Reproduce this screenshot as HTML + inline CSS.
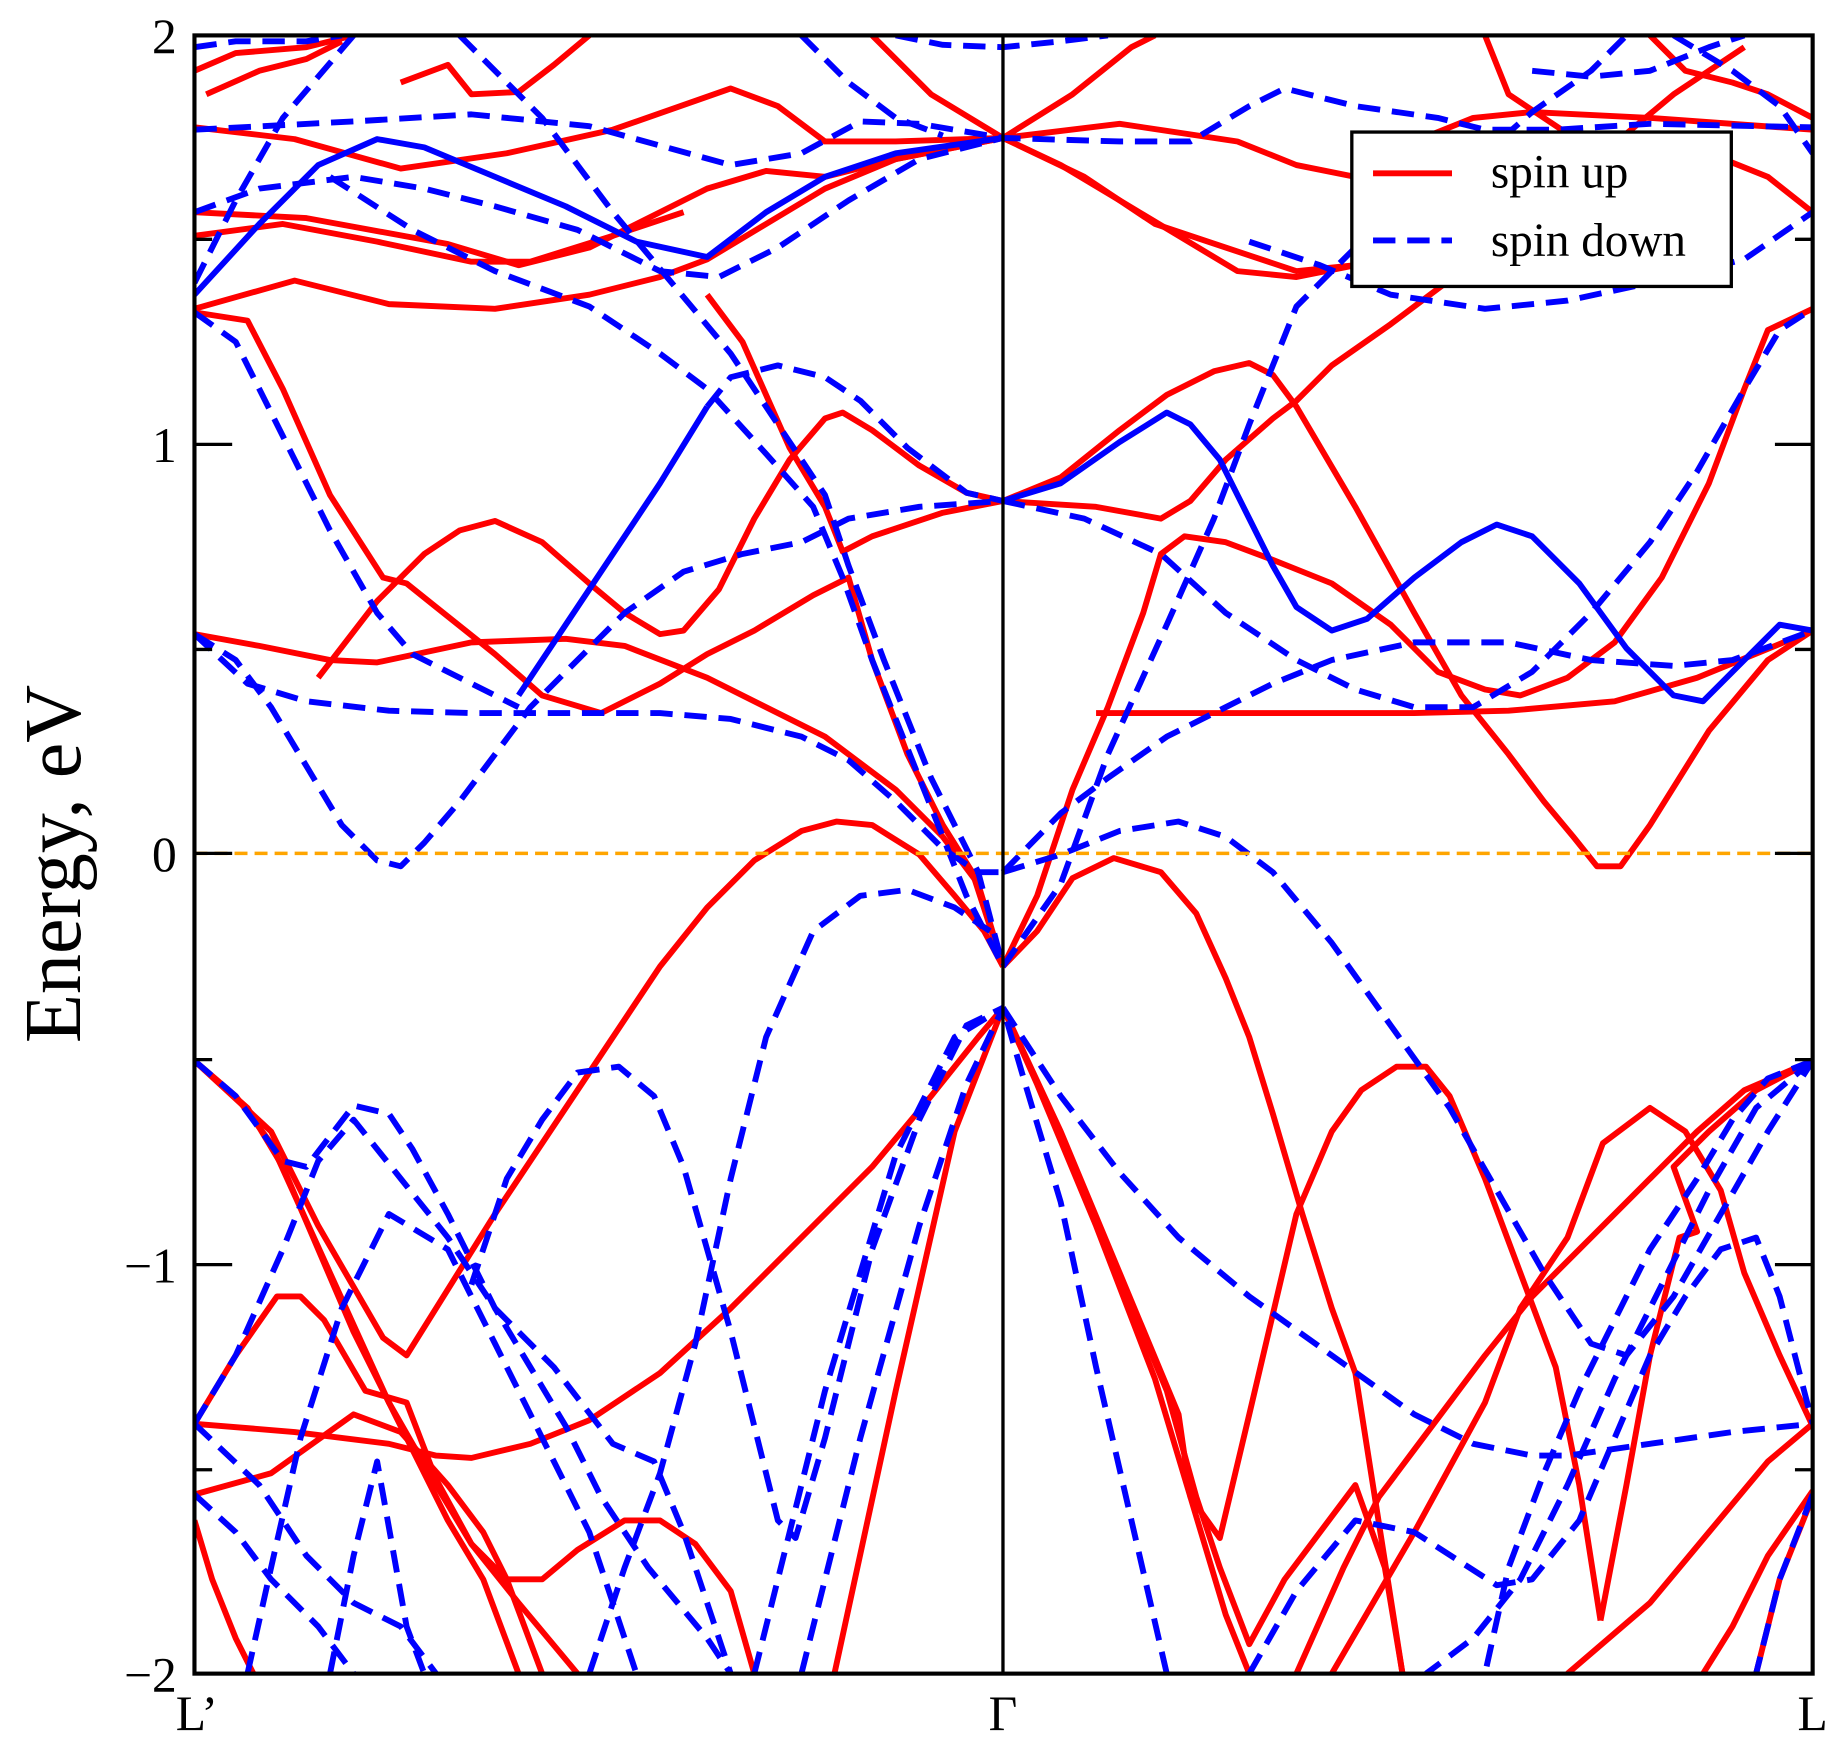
<!DOCTYPE html>
<html><head><meta charset="utf-8"><style>
html,body{margin:0;padding:0;background:#fff;}
svg{display:block;}
text{font-family:"Liberation Serif",serif;fill:#000;}
.r{fill:none;stroke:#f00;stroke-width:5;stroke-linejoin:round;stroke-linecap:butt;}
.b{fill:none;stroke:#00f;stroke-width:5;stroke-dasharray:19 10;stroke-linejoin:round;}
.bs{fill:none;stroke:#00f;stroke-width:5;stroke-linejoin:round;}
</style></head><body>
<svg width="1848" height="1755" viewBox="0 0 1568 1489" xmlns="http://www.w3.org/2000/svg">
<defs><clipPath id="c"><rect x="165" y="30" width="1373" height="1390"/></clipPath></defs>
<g clip-path="url(#c)">
<polyline class="r" points="165,108 250,118 340,143 430,130 520,110 620,75 660,90 700,120 760,120 851,117"/>
<polyline class="r" points="165,180 260,185 380,207 440,225 500,210 540,190 600,160 650,145 700,150 760,135 851,117"/>
<polyline class="r" points="165,262 250,238 330,258 420,262 500,250 560,235 600,220 650,190 700,160 760,135 851,117"/>
<polyline class="r" points="165,200 240,190 320,205 400,222 450,222 520,200 580,180"/>
<polyline class="r" points="165,60 200,45 260,40 300,30"/>
<polyline class="r" points="175,80 220,60 260,50 290,35"/>
<polyline class="r" points="340,70 380,55 400,80 440,78 470,55 500,30"/>
<polyline class="r" points="740,30 790,80 851,117 910,80 960,40 980,30"/>
<polyline class="r" points="165,265 210,272 240,330 280,420 325,490 345,495 370,515 420,555 460,590 510,605 560,580 600,555 640,535 690,505 720,490 740,560 770,640 800,700 825,740 851,820"/>
<polyline class="r" points="270,575 320,510 360,470 390,450 420,442 460,460 500,495 530,520 560,538 580,535 610,500 640,440 670,390 700,355 715,350 740,365 780,395 820,418 851,425"/>
<polyline class="r" points="165,538 220,548 280,560 320,562 400,545 480,542 530,548 600,575 700,625 760,670 800,710 830,750 851,820"/>
<polyline class="r" points="600,250 630,290 670,380 700,430 715,468 740,455 800,435 851,425"/>
<polyline class="r" points="165,900 230,960 270,1040 325,1135 345,1150 420,1030 500,910 560,820 600,770 640,730 680,705 710,697 740,700 780,725 810,760 835,790 851,820"/>
<polyline class="r" points="165,1208 250,1215 330,1225 370,1235 400,1237 450,1225 500,1205 560,1165 620,1110 680,1050 740,990 790,930 830,880 851,855"/>
<polyline class="r" points="708,1420 760,1180 810,960 851,855"/>
<polyline class="r" points="165,900 210,940 240,990 270,1060 300,1130 340,1210 380,1290 410,1340 440,1420"/>
<polyline class="r" points="165,900 200,930 230,970 280,1080 330,1190 370,1260 400,1310 430,1340 460,1340 490,1315 530,1290 560,1290 590,1310 620,1350 640,1420"/>
<polyline class="r" points="165,1208 200,1150 235,1100 255,1100 275,1120 310,1180 345,1190 370,1255 400,1310 440,1360 490,1420"/>
<polyline class="r" points="165,1268 230,1250 300,1200 340,1215 380,1260 410,1300 430,1340 460,1420"/>
<polyline class="r" points="165,1290 180,1340 200,1390 215,1420"/>
<polyline class="r" points="851,117 950,105 1050,120 1100,140 1150,150 1200,120 1250,100 1300,95 1400,100 1538,110"/>
<polyline class="r" points="851,117 900,140 950,170 1000,200 1050,230 1100,235 1150,225 1200,225 1260,200 1320,180 1400,170"/>
<polyline class="r" points="851,117 920,150 980,190 1040,210 1100,230 1150,225"/>
<polyline class="r" points="1260,30 1280,80 1340,120 1400,130 1450,130 1500,150 1538,180"/>
<polyline class="r" points="1400,30 1430,60 1470,70 1500,80 1538,100"/>
<polyline class="r" points="851,425 900,405 950,365 990,335 1030,315 1060,308 1080,318 1100,345 1150,430 1200,520 1240,590 1280,640 1310,680 1335,710 1355,735 1375,735 1400,700 1450,620 1500,560 1538,535"/>
<polyline class="r" points="851,425 930,430 985,440 1010,425 1040,390 1080,355 1100,340 1130,310 1180,275 1240,230 1300,180 1360,130 1420,80 1480,40"/>
<polyline class="r" points="851,820 880,760 910,670 940,600 970,520 985,470 1005,455 1040,460 1080,475 1130,495 1180,530 1220,570 1260,585 1290,590 1330,575 1370,545 1410,490 1450,410 1480,330 1500,280 1538,262"/>
<polyline class="r" points="930,605 1000,605 1100,605 1200,605 1280,603 1370,595 1440,575 1538,535"/>
<polyline class="r" points="851,820 880,790 910,745 945,728 985,740 1015,775 1040,830 1060,880 1080,945 1105,1030 1130,1110 1150,1165 1190,1420"/>
<polyline class="r" points="851,855 900,960 950,1080 1000,1200 1010,1270 1035,1305 1060,1200 1100,1030 1130,960 1155,925 1185,905 1210,905 1230,930 1260,1000 1290,1080 1320,1160 1340,1260 1358,1375"/>
<polyline class="r" points="851,855 890,940 940,1060 990,1180 1015,1270 1035,1330 1060,1395 1090,1340 1150,1260 1175,1330 1190,1420"/>
<polyline class="r" points="851,855 880,920 930,1040 980,1170 1010,1270 1040,1370 1060,1420"/>
<polyline class="r" points="1130,1420 1200,1300 1260,1190 1290,1110 1330,1050 1360,970 1400,940 1430,960 1460,1010 1480,1080 1510,1150 1538,1210"/>
<polyline class="r" points="1538,900 1480,925 1440,960 1400,1000 1350,1050 1300,1100 1260,1150 1230,1190 1200,1230 1170,1270 1140,1330 1100,1420"/>
<polyline class="r" points="1538,1208 1500,1240 1450,1300 1400,1360 1330,1420"/>
<polyline class="r" points="1538,1265 1500,1320 1470,1380 1445,1420"/>
<polyline class="r" points="1538,900 1490,925 1450,960 1420,990 1440,1045 1425,1050 1400,1150 1380,1260 1358,1375"/>
<polyline class="r" points="1538,1270 1510,1340 1490,1420"/>
<polyline class="b" points="165,538 200,560 230,600 260,650 290,700 320,730 340,735 360,715 390,680 420,640 450,600 480,570 530,520 580,485 630,470 680,460 720,440 780,430 851,425"/>
<polyline class="b" points="165,538 210,580 260,595 330,603 400,605 480,605 560,605 620,610 680,625 720,645 760,680 800,720 830,740 851,740"/>
<polyline class="b" points="165,265 200,290 240,370 280,450 320,520 350,555 400,580 440,600"/>
<polyline class="bs" points="440,590 480,530 520,470 560,410 600,345"/>
<polyline class="b" points="600,345 620,320 660,310 700,320 730,340 770,380 820,418 851,425"/>
<polyline class="bs" points="165,250 220,190 270,140 320,118 360,125 420,150 480,175 540,205 600,218 650,180 700,150 760,130 851,117"/>
<polyline class="b" points="165,180 220,160 300,150 360,160 420,175 490,195 560,230 610,235 660,210 720,170 780,135 851,117"/>
<polyline class="b" points="165,110 300,103 400,97 500,107 620,140 680,130 730,103 780,105 851,117 950,120 1010,120 1060,90 1090,75 1150,90 1220,100 1260,110 1320,110 1400,105 1538,108"/>
<polyline class="b" points="300,30 240,100 200,170 165,240"/>
<polyline class="b" points="390,30 460,100 520,180 570,240 620,300 660,360 700,420 720,480 750,560 790,660 830,740 851,820"/>
<polyline class="b" points="280,150 350,195 420,230 500,260 560,300 600,330 650,385 690,430 715,490 740,560 780,660 820,760 851,820"/>
<polyline class="b" points="165,40 200,35 260,35 290,30"/>
<polyline class="b" points="680,30 720,70 760,100 800,115"/>
<polyline class="b" points="760,30 800,38 851,40 900,35 940,30"/>
<polyline class="b" points="165,900 200,930 240,985 260,990 300,938 330,945 350,975 380,1030 400,1070 420,1110 450,1160 480,1210 510,1270 550,1330 600,1390 620,1420"/>
<polyline class="b" points="165,1208 200,1150 240,1060 270,985 300,950 340,1000 380,1050 420,1110 470,1160 520,1225 555,1240 580,1300 600,1360 620,1420"/>
<polyline class="b" points="165,1268 200,1300 230,1340 270,1380 300,1420"/>
<polyline class="b" points="165,1208 220,1260 260,1320 300,1360 340,1380 370,1420"/>
<polyline class="b" points="210,1420 230,1330 255,1220 290,1110 330,1030 380,1060 420,1140 460,1220 500,1300 520,1360 540,1420"/>
<polyline class="b" points="280,1420 300,1320 320,1240 345,1380 360,1420"/>
<polyline class="b" points="500,1420 530,1330 560,1250 590,1140 620,1000 650,880 690,790 730,760 770,755 810,770 840,790"/>
<polyline class="b" points="400,1090 430,1000 460,950 490,910 525,905 555,930 580,990 600,1060 620,1130 640,1210 660,1290 675,1305 700,1220 740,1060 780,950 820,870 851,855"/>
<polyline class="b" points="640,1420 700,1180 760,980 810,880 851,855"/>
<polyline class="b" points="680,1420 730,1220 780,1040 820,920 851,855"/>
<polyline class="b" points="851,855 900,930 950,995 1000,1050 1060,1100 1130,1150 1200,1200 1250,1225 1300,1235 1330,1235 1400,1225 1470,1215 1538,1208"/>
<polyline class="b" points="851,740 900,725 950,705 1000,697 1040,710 1080,740 1130,800 1180,870 1230,940 1270,1010 1310,1080 1350,1140 1380,1150 1420,1100 1460,1030 1500,960 1538,900"/>
<polyline class="b" points="851,740 900,690 940,660 990,625 1040,600 1080,580 1130,560 1200,545 1280,545 1350,560 1420,565 1470,560 1538,535"/>
<polyline class="bs" points="851,425 900,410 950,375 990,350 1010,360 1035,390 1060,440 1080,480 1100,515 1130,535 1160,525 1200,490 1240,460 1270,445 1300,455 1340,495 1380,550 1420,590 1445,595 1470,570 1510,530 1538,535"/>
<polyline class="b" points="851,820 900,750 940,640 990,530 1030,440 1060,360 1100,260 1150,210 1200,180 1260,130 1300,95 1350,60 1380,30"/>
<polyline class="b" points="851,425 920,440 985,470 1040,520 1100,560 1150,585 1200,600 1250,600 1300,570 1350,520 1400,460 1440,400 1480,330 1510,280 1538,262"/>
<polyline class="b" points="1060,205 1120,225 1180,250 1260,262 1330,255 1400,240 1480,220 1538,180"/>
<polyline class="b" points="1300,60 1350,65 1400,60 1450,40 1480,30"/>
<polyline class="b" points="1420,30 1470,60 1510,90 1538,130"/>
<polyline class="b" points="1060,1420 1100,1350 1150,1290 1200,1300 1270,1345 1300,1340 1340,1290 1370,1220 1400,1150 1430,1100 1460,1060 1490,1050 1510,1100 1538,1208"/>
<polyline class="b" points="1538,900 1500,915 1470,950 1440,1000 1400,1060 1370,1120 1340,1180 1310,1250 1280,1330 1260,1420"/>
<polyline class="b" points="1538,900 1490,940 1450,1010 1410,1090 1370,1170 1330,1260 1290,1340 1250,1390 1210,1420"/>
<polyline class="b" points="1538,1268 1510,1340 1490,1420"/>
<polyline class="b" points="990,1420 960,1290 930,1160 900,1020 870,920 851,855"/>
</g>
<line x1="165" y1="724" x2="1538" y2="724" stroke="#ffa500" stroke-width="3" stroke-dasharray="11 6"/>
<line x1="851" y1="30" x2="851" y2="1420" stroke="#000" stroke-width="2.8"/>
<rect x="165" y="30" width="1373" height="1390" fill="none" stroke="#000" stroke-width="3.5"/>
<g stroke="#000" stroke-width="2.8">
<line x1="165" y1="377" x2="197" y2="377"/><line x1="1538" y1="377" x2="1506" y2="377"/>
<line x1="165" y1="724" x2="197" y2="724"/><line x1="1538" y1="724" x2="1506" y2="724"/>
<line x1="165" y1="1073" x2="197" y2="1073"/><line x1="1538" y1="1073" x2="1506" y2="1073"/>
<line x1="165" y1="203" x2="180" y2="203"/><line x1="1538" y1="203" x2="1523" y2="203"/>
<line x1="165" y1="551" x2="180" y2="551"/><line x1="1538" y1="551" x2="1523" y2="551"/>
<line x1="165" y1="899" x2="180" y2="899"/><line x1="1538" y1="899" x2="1523" y2="899"/>
<line x1="165" y1="1247" x2="180" y2="1247"/><line x1="1538" y1="1247" x2="1523" y2="1247"/>
</g>
<g font-size="42" text-anchor="end">
<text x="150" y="45">2</text>
<text x="150" y="392">1</text>
<text x="150" y="739">0</text>
<text x="150" y="1088">−1</text>
<text x="150" y="1435">−2</text>
</g>
<g font-size="42" text-anchor="middle">
<text x="167" y="1468">L’</text>
<text x="851" y="1468">Γ</text>
<text x="1538" y="1468">L</text>
</g>
<text transform="translate(68,733) rotate(-90)" font-size="68" text-anchor="middle">Energy, eV</text>
<rect x="1147" y="112" width="322" height="131" fill="#fff" stroke="#000" stroke-width="2.8"/>
<line x1="1165" y1="147" x2="1232" y2="147" stroke="#f00" stroke-width="5"/>
<line x1="1165" y1="204" x2="1232" y2="204" stroke="#00f" stroke-width="5" stroke-dasharray="19 10"/>
<text x="1265" y="159" font-size="40">spin up</text>
<text x="1265" y="217" font-size="40">spin down</text>
</svg>
</body></html>
